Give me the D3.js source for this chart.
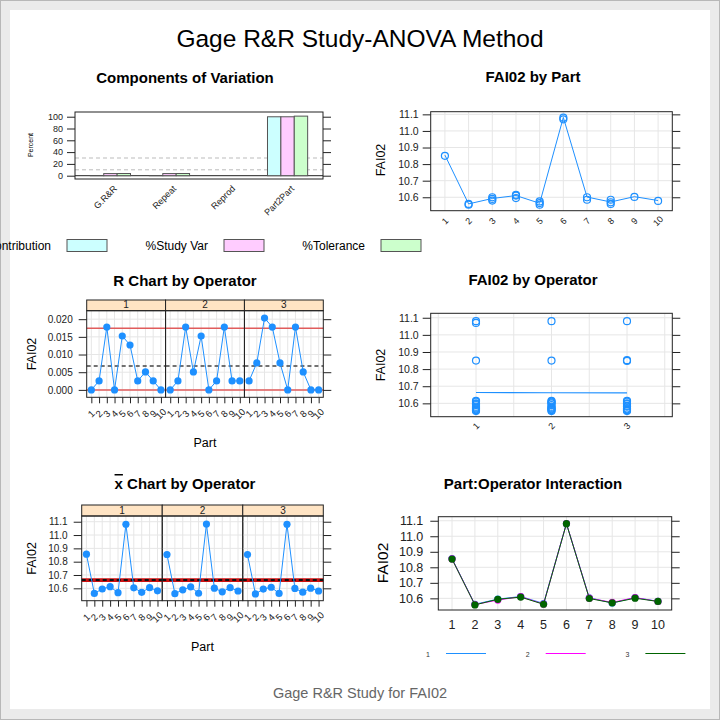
<!DOCTYPE html>
<html>
<head>
<meta charset="utf-8">
<script src="https://cdn.jsdelivr.net/npm/d3@7"></script>
<style>body{margin:0;background:#fff}</style>
</head>
<body>
<script>
// values
const parts = [1, 2, 3, 4, 5, 6, 7, 8, 9, 10];
const operators = ["1", "2", "3"];
const components = ["G.R&R", "Repeat", "Reprod", "Part2Part"];
const legendNames = ["%Contribution", "%Study Var", "%Tolerance"];
const pctContribution = [0.1, 0.1, 0, 99.9];
const pctStudyVar = [3.6, 3.6, 0, 99.9];
const pctTolerance = [3.7, 3.7, 0, 101.0];
const pctTicks = [0, 20, 40, 60, 80, 100];
const pctRefLines = [10, 30];

// individual measurements seen in "FAI02 by Part"
const partPoints = [
  [10.85], [10.56, 10.555], [10.58, 10.59, 10.60], [10.595, 10.61, 10.615],
  [10.555, 10.565, 10.575], [11.07, 11.08], [10.585, 10.60], [10.56, 10.57, 10.585],
  [10.602], [10.578]
];
// individual measurements seen in "FAI02 by Operator"
const op1Points = [11.08, 11.07, 10.85, 10.615, 10.61, 10.60, 10.595, 10.59, 10.58, 10.575, 10.57, 10.565, 10.56, 10.555];
const op2Points = [11.08, 10.85, 10.615, 10.61, 10.605, 10.60, 10.59, 10.58, 10.575, 10.57, 10.565, 10.56, 10.555];
const op3Points = [11.08, 10.852, 10.848, 10.615, 10.61, 10.60, 10.595, 10.585, 10.58, 10.57, 10.565, 10.56, 10.555];

// operator means per part (xbar chart / interaction)
const xbarOp1 = [10.856, 10.562, 10.595, 10.612, 10.567, 11.081, 10.604, 10.570, 10.605, 10.581];
const xbarOp2 = [10.854, 10.560, 10.589, 10.611, 10.563, 11.082, 10.601, 10.574, 10.605, 10.580];
const xbarOp3 = [10.853, 10.558, 10.594, 10.608, 10.562, 11.081, 10.599, 10.571, 10.601, 10.580];
// ranges per part (R chart)
const rangeOp1 = [0, 0.00254, 0.01778, 0, 0.01524, 0.0127, 0.00254, 0.00508, 0.00254, 0];
const rangeOp2 = [0, 0.00254, 0.01778, 0.00508, 0.01524, 0, 0.00254, 0.01778, 0.00254, 0.00254];
const rangeOp3 = [0.00254, 0.00762, 0.02032, 0.01778, 0.00762, 0, 0.01778, 0.00508, 0, 0];

const faiTicks = [10.6, 10.7, 10.8, 10.9, 11.0, 11.1];
const rTicks = [0, 0.005, 0.01, 0.015, 0.02];

const FONT = "'Liberation Sans', Arial, sans-serif";
const BLUE = "#1e90ff";
const opColors = [BLUE, "#ff00ff", "#006400"];
const barFills = ["#ccffff", "#ffccff", "#ccffcc"];
const GRID = "#e6e6e6";

const xbars = [xbarOp1, xbarOp2, xbarOp3];
const ranges = [rangeOp1, rangeOp2, rangeOp3];
const opPoints = [op1Points, op2Points, op3Points];

// control limits, n = 3 replicates
const rBar = d3.mean(ranges.flat());
const grand = d3.mean(xbars.flat());
const uclR = 2.574 * rBar;
const uclX = grand + 1.023 * rBar, lclX = grand - 1.023 * rBar;

const svg = d3.select("body").append("svg")
  .attr("width", 720).attr("height", 720)
  .style("font-family", FONT);

// window frame
svg.append("rect").attr("width", 720).attr("height", 720).attr("fill", "#ebebeb");
svg.append("rect").attr("x", 0.5).attr("y", 0.5).attr("width", 719).attr("height", 719)
  .attr("fill", "none").attr("stroke", "#b8b8b8");
svg.append("rect").attr("x", 10).attr("y", 10).attr("width", 700).attr("height", 699).attr("fill", "#fff");

function text(t, x, y, size, opts = {}) {
  return svg.append("text").attr("x", x).attr("y", y).attr("font-size", size)
    .attr("text-anchor", opts.anchor || "middle")
    .attr("font-weight", opts.bold ? "bold" : null)
    .attr("fill", opts.color || "#000")
    .attr("transform", opts.rot ? `rotate(${opts.rot},${x},${y})` : null)
    .text(t);
}

function box(x0, y0, x1, y1) {
  svg.append("rect").attr("x", x0).attr("y", y0).attr("width", x1 - x0).attr("height", y1 - y0)
    .attr("fill", "none").attr("stroke", "#222");
}

function yAxes(y, x0, x1, ticks, fmt, fs, pad) {
  svg.append("g").attr("transform", `translate(${x0},0)`)
    .call(d3.axisLeft(y).tickValues(ticks).tickFormat(fmt).tickSize(8).tickPadding(pad))
    .call(g => g.select(".domain").remove())
    .attr("font-size", fs).attr("font-family", FONT).attr("color", "#222");
  svg.append("g").attr("transform", `translate(${x1},0)`)
    .call(d3.axisRight(y).tickValues(ticks).tickFormat("").tickSize(8))
    .call(g => g.select(".domain").remove())
    .attr("color", "#222");
}

function grid(x, y, xv, yv, x0, x1, y0, y1) {
  const g = svg.append("g").attr("stroke", GRID);
  g.selectAll("line.v").data(xv).join("line").attr("class", "v")
    .attr("x1", d => x(d)).attr("x2", d => x(d)).attr("y1", y0).attr("y2", y1);
  g.selectAll("line.h").data(yv).join("line").attr("class", "h")
    .attr("x1", x0).attr("x2", x1).attr("y1", d => y(d)).attr("y2", d => y(d));
}

function rotLabels(x, vals, yc, fs) {
  svg.append("g").selectAll("text").data(vals).join("text")
    .attr("transform", d => `translate(${x(d)},${yc}) rotate(-45)`)
    .attr("text-anchor", "middle").attr("dy", "0.35em")
    .attr("font-size", fs).attr("fill", "#222")
    .text(d => d);
}

// main titles
text("Gage R&R Study-ANOVA Method", 360, 47, 24.5);
text("Gage R&R Study for FAI02", 360, 698, 14.5, {color: "#666"});

// ---------- Components of Variation ----------
{
  const x0 = 75, x1 = 323, y0 = 112, y1 = 179;
  text("Components of Variation", 185, 83, 15, {bold: true});
  const x = d3.scaleLinear().domain([0.4, 4.6]).range([x0, x1]);
  const y = d3.scaleLinear().domain([-5.6, 108]).range([y1, y0]);
  const barW = x(0.2267) - x(0);
  pctRefLines.forEach(v => svg.append("line").attr("x1", x0).attr("x2", x1)
    .attr("y1", y(v)).attr("y2", y(v)).attr("stroke", "#bbb").attr("stroke-dasharray", "4,3"));
  svg.append("line").attr("x1", x0).attr("x2", x1).attr("y1", y(0)).attr("y2", y(0)).attr("stroke", "#222");
  [pctContribution, pctStudyVar, pctTolerance].forEach((vals, k) => {
    svg.append("g").selectAll("rect").data(vals).join("rect")
      .attr("x", (d, i) => x(i + 1) + (k - 1.5) * barW)
      .attr("y", d => y(Math.max(d, 0)))
      .attr("width", barW)
      .attr("height", d => Math.abs(y(0) - y(d)))
      .attr("fill", barFills[k]).attr("stroke", "#555");
  });
  box(x0, y0, x1, y1);
  yAxes(y, x0, x1, pctTicks, d3.format("d"), 9, 4);
  svg.append("g").selectAll("text").data(components).join("text")
    .attr("transform", (d, i) => `translate(${x(i + 1) + 5},${187}) rotate(-45)`)
    .attr("text-anchor", "end").attr("dy", "0.35em").attr("font-size", 9).attr("fill", "#222")
    .text(d => d);
  text("Percent", 33, 145, 7, {rot: -90});
  // legend
  legendNames.forEach((n, k) => {
    const bx = 67 + k * 157;
    text(n, bx - 16, 250, 12, {anchor: "end"});
    svg.append("rect").attr("x", bx).attr("y", 239.5).attr("width", 40).attr("height", 12)
      .attr("fill", barFills[k]).attr("stroke", "#555");
  });
}

// ---------- FAI02 by Part ----------
{
  const x0 = 430.7, x1 = 672.3, y0 = 111.7, y1 = 210.7;
  text("FAI02 by Part", 533, 82, 15, {bold: true});
  const x = d3.scaleLinear().domain([0.4, 10.6]).range([x0, x1]);
  const y = d3.scaleLinear().domain([10.519, 11.116]).range([y1, y0]);
  grid(x, y, parts, faiTicks, x0, x1, y0, y1);
  const partMean = parts.map((p, i) => d3.mean(xbars, a => a[i]));
  svg.append("path").datum(partMean)
    .attr("d", d3.line().x((d, i) => x(parts[i])).y(d => y(d)))
    .attr("fill", "none").attr("stroke", BLUE);
  const pts = partPoints.flatMap((arr, i) => arr.map(v => [parts[i], v]));
  svg.append("g").selectAll("circle").data(pts).join("circle")
    .attr("cx", d => x(d[0])).attr("cy", d => y(d[1])).attr("r", 3.5)
    .attr("fill", "none").attr("stroke", BLUE).attr("stroke-width", 1.2);
  box(x0, y0, x1, y1);
  yAxes(y, x0, x1, faiTicks, d3.format(".1f"), 10.5, 4);
  rotLabels(x, parts, 221, 9);
  text("FAI02", 385, 160, 12.5, {rot: -90});
}

// ---------- FAI02 by Operator ----------
{
  const x0 = 430.7, x1 = 672.3, y0 = 313.3, y1 = 416.7;
  text("FAI02 by Operator", 533, 285, 15, {bold: true});
  const x = d3.scaleLinear().domain([0.4, 3.6]).range([x0, x1]);
  const y = d3.scaleLinear().domain([10.522, 11.126]).range([y1, y0]);
  grid(x, y, [0.5, 1, 1.5, 2, 2.5, 3, 3.5], faiTicks, x0, x1, y0, y1);
  const opMeans = xbars.map(a => d3.mean(a));
  svg.append("path").datum(opMeans)
    .attr("d", d3.line().x((d, i) => x(i + 1)).y(d => y(d)))
    .attr("fill", "none").attr("stroke", BLUE).attr("stroke-width", 1.2);
  const pts = opPoints.flatMap((arr, i) => arr.map(v => [i + 1, v]));
  svg.append("g").selectAll("circle").data(pts).join("circle")
    .attr("cx", d => x(d[0])).attr("cy", d => y(d[1])).attr("r", 3.5)
    .attr("fill", "none").attr("stroke", BLUE).attr("stroke-width", 1.2);
  box(x0, y0, x1, y1);
  yAxes(y, x0, x1, faiTicks, d3.format(".1f"), 10.5, 4);
  rotLabels(x, [1, 2, 3], 426, 9);
  text("FAI02", 385, 365, 12.5, {rot: -90});
}

// ---------- R / xbar charts by operator ----------
function opChart(cfg) {
  const pw = (cfg.x1 - cfg.x0) / 3;
  const y = d3.scaleLinear().domain(cfg.yDomain).range([cfg.bot, cfg.stripBot]);
  operators.forEach((op, i) => {
    const px0 = cfg.x0 + i * pw, px1 = px0 + pw;
    const x = d3.scaleLinear().domain([0.4, 10.6]).range([px0, px1]);
    grid(x, y, parts, cfg.ticks, px0, px1, cfg.stripBot, cfg.bot);
    cfg.lines.forEach(l => svg.append("line").attr("x1", px0).attr("x2", px1)
      .attr("y1", y(l.v)).attr("y2", y(l.v)).attr("stroke", l.color)
      .attr("stroke-width", l.w).attr("stroke-dasharray", l.dash || null));
    const vals = cfg.values[i];
    svg.append("path").datum(vals)
      .attr("d", d3.line().x((d, j) => x(parts[j])).y(d => y(d)))
      .attr("fill", "none").attr("stroke", BLUE);
    svg.append("g").selectAll("circle").data(vals).join("circle")
      .attr("cx", (d, j) => x(parts[j])).attr("cy", d => y(d)).attr("r", 3.6).attr("fill", BLUE);
    svg.append("rect").attr("x", px0).attr("y", cfg.stripTop).attr("width", pw)
      .attr("height", cfg.stripBot - cfg.stripTop).attr("fill", "#ffe4c4").attr("stroke", "#222");
    text(op, (px0 + px1) / 2, cfg.stripBot - 2.5, 10, {color: "#222"});
    svg.append("g").attr("transform", `translate(0,${cfg.bot})`)
      .call(d3.axisBottom(x).tickValues(parts).tickFormat("").tickSize(6))
      .call(g => g.select(".domain").remove()).attr("color", "#222");
    rotLabels(x, parts, cfg.bot + 16.5, 9.5);
    box(px0, cfg.stripBot, px1, cfg.bot);
  });
  yAxes(y, cfg.x0, cfg.x1, cfg.ticks, cfg.fmt, 10, 6);
  text("Part", (cfg.x0 + cfg.x1) / 2, cfg.bot + 50, 12.5);
  text("FAI02", 36, (cfg.stripBot + cfg.bot) / 2, 12.5, {rot: -90});
}

text("R Chart by Operator", 185, 286, 15, {bold: true});
opChart({
  x0: 86.7, x1: 323.3, stripTop: 300, stripBot: 310.7, bot: 397.3,
  yDomain: [-0.0021, 0.0224], ticks: rTicks, fmt: d3.format(".3f"),
  values: ranges,
  lines: [
    {v: uclR, color: "#e05c5c", w: 1.5},
    {v: 0, color: "#e05c5c", w: 1.5},
    {v: rBar, color: "#444", w: 1.5, dash: "4,3"}
  ]
});

{
  const t = svg.append("text").attr("x", 185).attr("y", 489).attr("text-anchor", "middle")
    .attr("font-size", 15).attr("font-weight", "bold");
  t.append("tspan").attr("text-decoration", "overline").text("x");
  t.append("tspan").text(" Chart by Operator");
}
opChart({
  x0: 81.7, x1: 323.3, stripTop: 505, stripBot: 516, bot: 600.7,
  yDomain: [10.507, 11.143], ticks: faiTicks, fmt: d3.format(".1f"),
  values: xbars,
  lines: [
    {v: uclX, color: "#cc1111", w: 2},
    {v: lclX, color: "#cc1111", w: 2},
    {v: grand, color: "#111", w: 2, dash: "4,3"}
  ]
});

// ---------- Part:Operator Interaction ----------
{
  const x0 = 438.3, x1 = 671.7, y0 = 516.7, y1 = 610;
  text("Part:Operator Interaction", 533, 489, 15, {bold: true});
  const x = d3.scaleLinear().domain([0.4, 10.6]).range([x0, x1]);
  const y = d3.scaleLinear().domain([10.525, 11.126]).range([y1, y0]);
  grid(x, y, parts, faiTicks, x0, x1, y0, y1);
  xbars.forEach((vals, k) => {
    svg.append("path").datum(vals)
      .attr("d", d3.line().x((d, j) => x(parts[j])).y(d => y(d)))
      .attr("fill", "none").attr("stroke", opColors[k]);
    svg.append("g").selectAll("circle").data(vals).join("circle")
      .attr("cx", (d, j) => x(parts[j])).attr("cy", d => y(d)).attr("r", 3.6).attr("fill", opColors[k]);
  });
  box(x0, y0, x1, y1);
  yAxes(y, x0, x1, faiTicks, d3.format(".1f"), 12.5, 7);
  svg.append("g").selectAll("text").data(parts).join("text")
    .attr("x", d => x(d)).attr("y", 629).attr("text-anchor", "middle")
    .attr("font-size", 12.5).attr("fill", "#222").text(d => d);
  text("FAI02", 388, 563, 15.5, {rot: -90});
  operators.forEach((op, k) => {
    const lx = 446 + k * 99.7;
    text(op, lx - 18, 656.5, 7, {color: "#333"});
    svg.append("line").attr("x1", lx).attr("x2", lx + 40).attr("y1", 653.5).attr("y2", 653.5)
      .attr("stroke", opColors[k]);
  });
}
</script>
</body>
</html>
